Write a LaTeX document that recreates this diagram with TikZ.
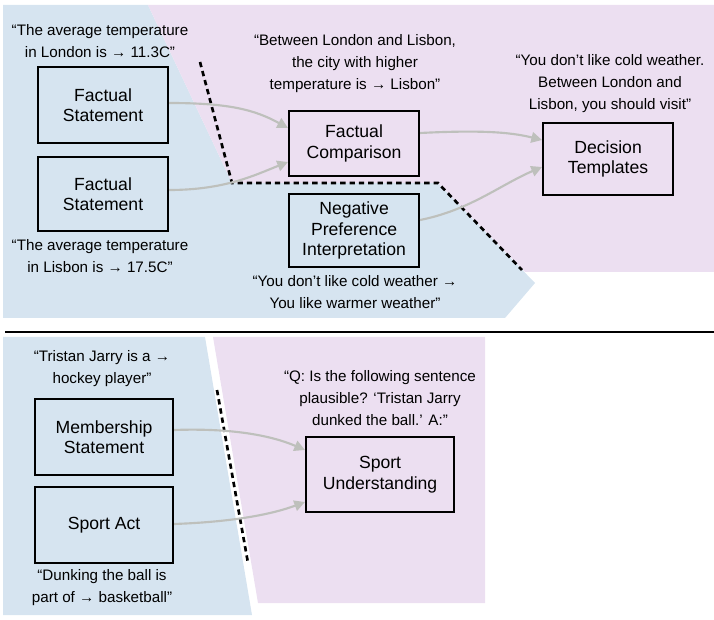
\documentclass[tikz,border=0pt]{standalone}
\usepackage{fontspec}
\setmainfont{Liberation Sans}
\usetikzlibrary{arrows.meta}
\definecolor{bl}{RGB}{214,228,240}
\definecolor{pk}{RGB}{236,223,241}
\definecolor{ar}{RGB}{190,192,188}
\begin{document}
\begin{tikzpicture}[x=0.75pt,y=-0.75pt,
 box/.style={draw,line width=1.6pt,minimum width=97.5pt,minimum height=54pt,align=center,font=\fontsize{13.2}{15.5}\selectfont,anchor=north west,inner sep=0},
 q/.style={align=center,font=\fontsize{11.4}{16.5}\selectfont},
 arr/.style={draw=ar,line width=1.6pt,-{Triangle[length=8pt,width=8pt]}},
 dsh/.style={line width=2pt,dash pattern=on 4pt off 3pt}]
\useasboundingbox (0,0) rectangle (714,620);
\fill[bl] (3,5)--(148,5)--(232,183)--(438,183)--(535,283)--(505,318)--(3,318)--cycle;
\fill[pk] (148,5)--(714,5)--(714,272)--(525,272)--(438,183)--(232,183)--cycle;
\draw[dsh] (200,62)--(232,183)--(438,183)--(522,270);
\draw[line width=2pt] (5,332)--(714,332);
\fill[bl] (3,337)--(205,337)--(252,615)--(3,615)--cycle;
\fill[pk] (213,337)--(485,337)--(485,603)--(258,603)--cycle;
\draw[dsh] (217,390)--(248,563);
\node[box,minimum width=97.5pt,minimum height=57pt] (fs1) at (37,66) {Factual\\Statement};
\node[box,minimum height=55.5pt] (fs2) at (37,156) {Factual\\Statement};
\node[box,minimum height=48.75pt] (fc) at (288,110) {Factual\\Comparison};
\node[box,minimum height=54.75pt] (np) at (288,193) {Negative\\Preference\\Interpretation};
\node[box] (dt) at (542,122) {Decision\\Templates};
\node[box,minimum width=103.5pt,minimum height=57pt] (ms) at (34,398) {Membership\\Statement};
\node[box,minimum width=103.5pt,minimum height=57pt] (sa) at (34,486) {Sport Act};
\node[box,minimum width=111pt,minimum height=56.25pt] (su) at (305,436) {Sport\\Understanding};
\node[q] (t1) at (100,41) {“The average temperature\\in London is → 11.3C”};
\node[q] (t2) at (100,256) {“The average temperature\\in Lisbon is → 17.5C”};
\node[q] (t3) at (355,64) {“Between London and Lisbon,\\the city with higher\\temperature is → Lisbon”};
\node[q] (t4) at (610,84) {“You don't like cold weather.\\Between London and\\Lisbon, you should visit”};
\node[q] (t5) at (355,292) {“You don't like cold weather →\\You like warmer weather”};
\node[q] (t6) at (102,369) {“Tristan Jarry is a →\\hockey player”};
\node[q] (t7) at (102,588) {“Dunking the ball is\\part of → basketball”};
\node[q] (t8) at (380,398) {“Q: Is the following sentence\\plausible? ‘Tristan Jarry\\dunked the ball.’ A:”};
\draw[arr] (fs1.east|-0,103) .. controls (230,103) and (255,110) .. (fc.west|-0,128);
\draw[arr] (fs2.east|-0,190) .. controls (225,190) and (255,175) .. (fc.west|-0,162);
\draw[arr] (fc.east|-0,133) .. controls (480,130) and (510,132) .. (dt.west|-0,140);
\draw[arr] (np.east|-0,220) .. controls (470,210) and (500,185) .. (dt.west|-0,167);
\draw[arr] (ms.east|-0,430) .. controls (230,428) and (270,435) .. (su.west|-0,450);
\draw[arr] (sa.east|-0,524) .. controls (230,522) and (270,515) .. (su.west|-0,502);
\end{tikzpicture}
\end{document}
